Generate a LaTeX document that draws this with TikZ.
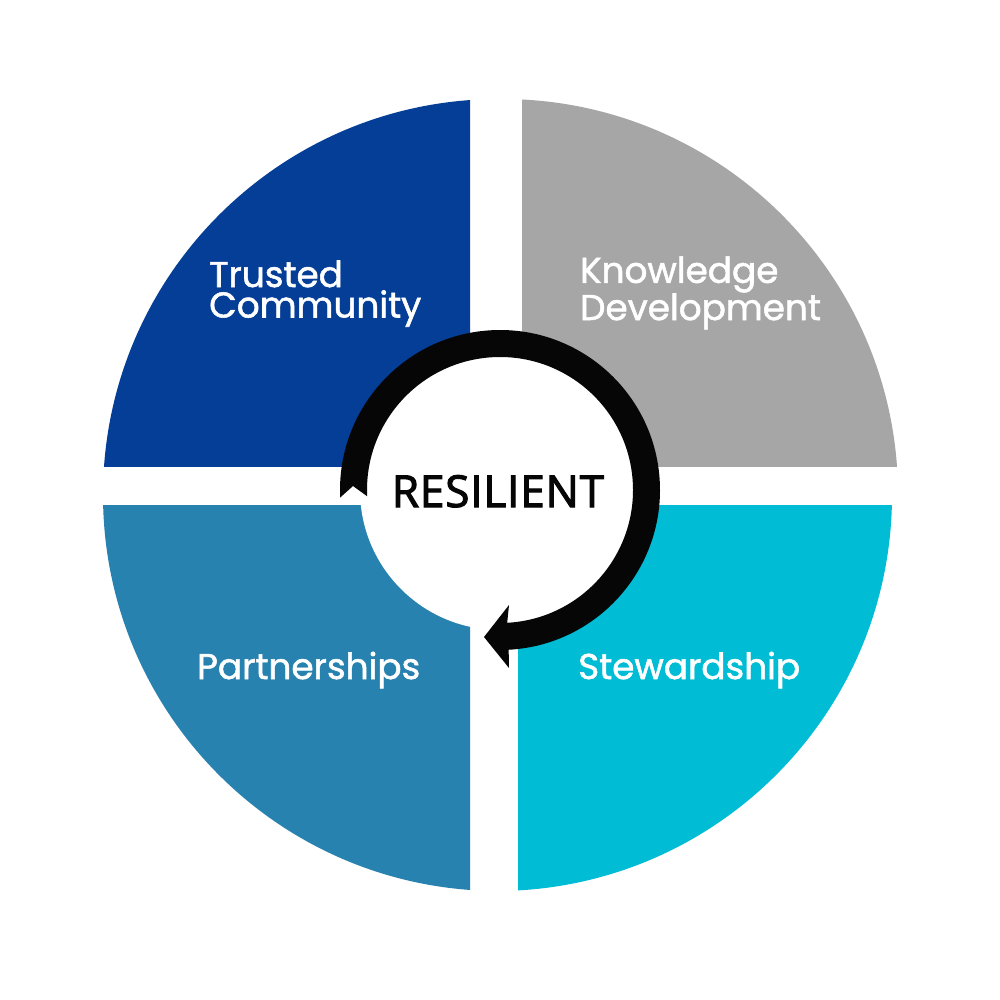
\documentclass[tikz,border=0pt]{standalone}
\usepackage{fontspec}
\setmainfont{Poppins}
\newfontfamily\labfont[FakeBold=1.5]{Poppins}
\newfontfamily\resfont[LetterSpace=2,FakeBold=2.5]{Open Sans}
\definecolor{qtl}{HTML}{043E96}
\definecolor{qtr}{HTML}{A6A6A6}
\definecolor{qbl}{HTML}{2882B0}
\definecolor{qbr}{HTML}{00BCD5}
\definecolor{ringc}{HTML}{060606}
\tikzset{
  lbl/.style={text=white, inner sep=0pt, align=left,
    font=\labfont\fontsize{35.8}{30.5}\selectfont},
}
\begin{document}
\begin{tikzpicture}[x=1pt,y=-1pt]
\useasboundingbox (0,0) rectangle (1000,1000);
\fill[white] (0,0) rectangle (1000,1000);
% quadrants
\begin{scope}
  \clip (0,0) rectangle (470,466);
  \fill[qtl] (499,495) circle[radius=396];
\end{scope}
\begin{scope}
  \clip (522,0) rectangle (1000,466);
  \fill[qtr] (502,495) circle[radius=396];
\end{scope}
\begin{scope}
  \clip (0,505) rectangle (470,1000);
  \fill[qbl] (499,495) circle[radius=396];
\end{scope}
\begin{scope}
  \clip (518,505) rectangle (1000,1000);
  \fill[qbr] (496,495) circle[radius=396];
\end{scope}
% central white disk
\fill[white] (500,490) circle[radius=140];
% ring arrow
\fill[ringc] ([shift={(500,490)}]177.3:160) arc[start angle=177.3, end angle=446.9, radius=160]
  -- (509,668) -- (484,637) -- (509,605)
  -- ([shift={(500,490)}]446.9:133) arc[start angle=446.9, end angle=177.3, radius=133]
  -- (353,486) -- cycle;
% labels (base anchor = baseline of last line)
\node[lbl, anchor=base west] (tc) at (209,317.5) {Trusted\\Community};
\node[lbl, anchor=base west] (kd) at (580,320) {Knowledge\\Development};
\node[lbl, anchor=base west] (p1) at (197,679) {Partnerships};
\node[lbl, anchor=base west] (s1) at (578,679) {Stewardship};
\node[inner sep=0pt, anchor=base, text=ringc, font=\resfont\fontsize{44}{50}\selectfont] (res) at (498,507) {RESILIENT};
\end{tikzpicture}
\end{document}
